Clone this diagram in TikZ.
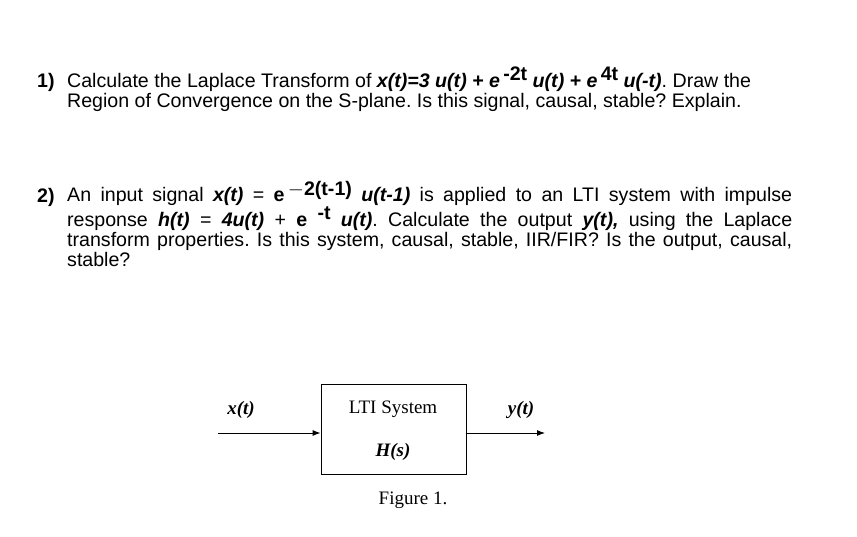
\documentclass[tikz,border=0pt]{standalone}
\usepackage{fontspec}
\setmainfont{Liberation Sans}
\newfontfamily\tnr{Liberation Serif}
\usetikzlibrary{arrows.meta}
\frenchspacing
\begin{document}
\begin{tikzpicture}[x=1pt,y=-1pt,
  txt/.style={anchor=base west,inner sep=0pt,font=\fontsize{19.6}{20}\selectfont},
  ser/.style={inner sep=0pt,font=\tnr\fontsize{19}{21}\selectfont},
  arr/.style={-{Latex[length=8pt,width=6pt]},line width=1pt}]
\useasboundingbox (0,0) rectangle (857,537);
\node[txt] (n1) at (37,88) {\textbf{1)}};
\node[txt] (l1) at (67,88) {Calculate the Laplace Transform of \textbf{\textit{x(t)=3 u(t) + e\,\raisebox{7pt}{\upshape -2t} u(t) + e\,\raisebox{7pt}{\upshape 4t} u(-t)}}. Draw the};
\node[txt] (l2) at (67,108) {Region of Convergence on the S-plane. Is this signal, causal, stable? Explain.};
\node[txt] (n2) at (37,203) {\textbf{2)}};
\node[txt,anchor=north west,text width=725pt,align=justify] (p2) at (67,181) {An input signal \textbf{\textit{x(t)}} = \textbf{e\,\raisebox{6pt}{$-$2(t-1)}} \textbf{\textit{u(t-1)}} is applied to an LTI system with impulse\linebreak
response \textbf{\textit{h(t)}} = \textbf{\textit{4u(t)}} + \textbf{e \raisebox{7pt}{-t} \textit{u(t)}}. Calculate the output \textbf{\textit{y(t),}} using the Laplace\linebreak
transform properties. Is this system, causal, stable, IIR/FIR? Is the output, causal,\linebreak
stable?};
\node[draw,line width=0.8pt,minimum width=145pt,minimum height=90pt,inner sep=0pt] (sys) at (393.5,429) {};
\node[ser] (t1) at (393,409) {LTI System};
\node[ser] (t2) at (393,452) {\textbf{\textit{H(s)}}};
\node[ser] (fig) at (413,500) {Figure 1.};
\coordinate (in) at (218,433);
\coordinate (out) at (545,433);
\draw[arr] (in) -- (sys.west |- in);
\draw[arr] (sys.east |- out) -- (out);
\node[ser] (xl) at (241,410) {\textbf{\textit{x(t)}}};
\node[ser] (yl) at (521,410) {\textbf{\textit{y(t)}}};
\end{tikzpicture}
\end{document}
